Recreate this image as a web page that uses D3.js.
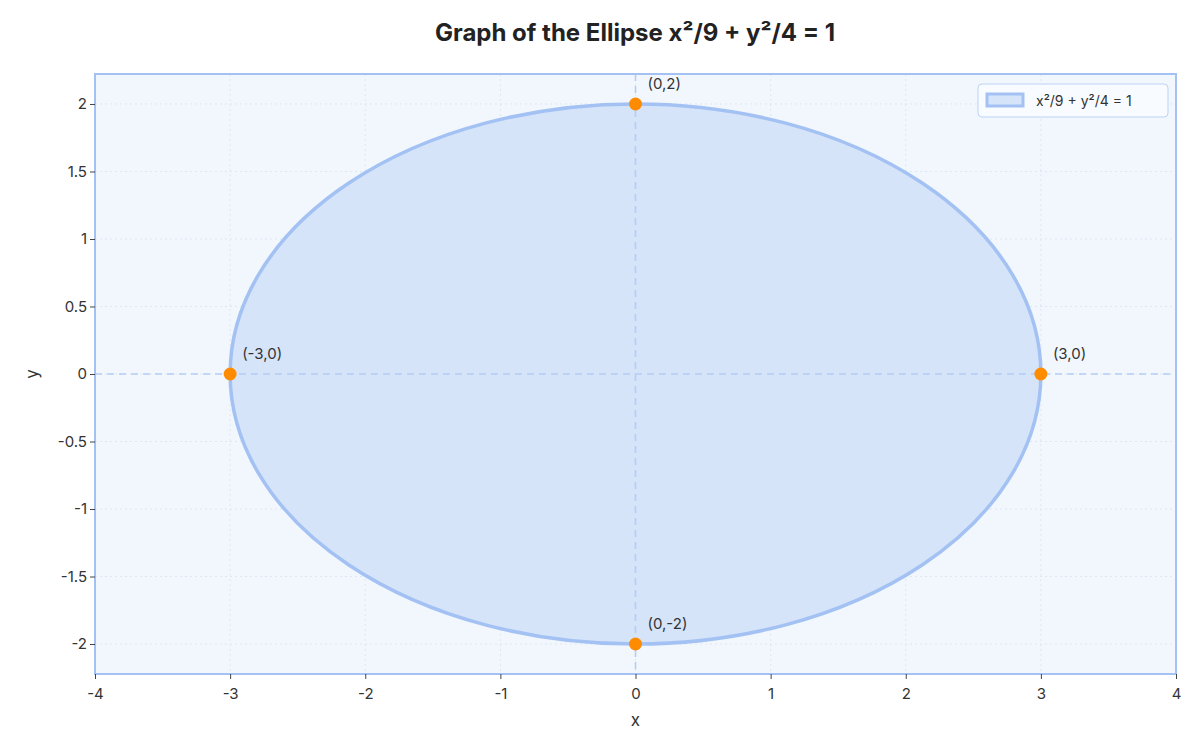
<!DOCTYPE html>
<html><head><meta charset="utf-8">
<script src="https://cdn.jsdelivr.net/npm/d3@7"></script>
<style>body{margin:0;background:#fff;font-family:Inter,"Noto Sans",sans-serif;}</style>
</head><body>
<svg id="c" width="1200" height="750"></svg>
<script>
const semiAxes = [3, 2];                 // a, b
const vertices = [[-3,0],[3,0],[0,2],[0,-2]];
const vertexLabels = ['(-3,0)','(3,0)','(0,2)','(0,-2)'];
const xTicks = [-4,-3,-2,-1,0,1,2,3,4];
const yTicks = [-2,-1.5,-1,-0.5,0,0.5,1,1.5,2];

const L=95, R=1176, T=74, B=674;
const svg=d3.select('#c');
const x=d3.scaleLinear().domain([-4,4]).range([L,R]);
const y=d3.scaleLinear().domain([-2.222,2.222]).range([B,T]);
const fmt=d=>String(d);

svg.append('rect').attr('x',L).attr('y',T).attr('width',R-L).attr('height',B-T).attr('fill','#f2f7fe');
const grid=svg.append('g').attr('stroke','#dde6f3').attr('stroke-dasharray','2,3').attr('stroke-width',1);
xTicks.forEach(t=>grid.append('line').attr('x1',x(t)).attr('x2',x(t)).attr('y1',T).attr('y2',B));
yTicks.forEach(t=>grid.append('line').attr('y1',y(t)).attr('y2',y(t)).attr('x1',L).attr('x2',R));

svg.append('ellipse').attr('cx',x(0)).attr('cy',y(0))
  .attr('rx',x(semiAxes[0])-x(0)).attr('ry',y(0)-y(semiAxes[1]))
  .attr('fill','#d5e4f9').attr('stroke','#a3c2f3').attr('stroke-width',3.5);

const ax=svg.append('g').attr('stroke','#b4cdf3').attr('stroke-width',1.6).attr('stroke-dasharray','7,5');
ax.append('line').attr('x1',L).attr('x2',R).attr('y1',y(0)).attr('y2',y(0));
ax.append('line').attr('y1',T).attr('y2',B).attr('x1',x(0)).attr('x2',x(0));

svg.append('rect').attr('x',L).attr('y',T).attr('width',R-L).attr('height',B-T).attr('fill','none').attr('stroke','#a3c2f3').attr('stroke-width',2);

vertices.forEach((v,i)=>{
  svg.append('circle').attr('cx',x(v[0])).attr('cy',y(v[1])).attr('r',6.5).attr('fill','#ff8c00');
  svg.append('text').attr('x',x(v[0])+12).attr('y',y(v[1])-15).attr('font-size',15).attr('fill','#333').text(vertexLabels[i]);
});

const xa=svg.append('g').attr('transform',`translate(0,${B})`).call(d3.axisBottom(x).tickValues(xTicks).tickSize(5).tickFormat(fmt));
const ya=svg.append('g').attr('transform',`translate(${L},0)`).call(d3.axisLeft(y).tickValues(yTicks).tickSize(5).tickFormat(fmt));
[xa,ya].forEach(a=>{a.select('.domain').remove();a.selectAll('line').attr('stroke','#444');
  a.selectAll('text').attr('font-size',15).attr('fill','#333').attr('font-family','Inter,sans-serif');});
xa.selectAll('text').attr('dy','1.1em');

svg.append('text').attr('x',x(0)).attr('y',726).attr('text-anchor','middle').attr('font-size',17).attr('fill','#333').text('x');
svg.append('text').attr('transform',`translate(38,${y(0)}) rotate(-90)`).attr('text-anchor','middle').attr('font-size',17).attr('fill','#333').text('y');
svg.append('text').attr('x',635).attr('y',41).attr('text-anchor','middle').attr('font-size',24).attr('font-weight',700).attr('fill','#222').text('Graph of the Ellipse x²/9 + y²/4 = 1');

const lg=svg.append('g').attr('transform','translate(978,84)');
lg.append('rect').attr('width',190).attr('height',33).attr('rx',4).attr('fill','#f8fbff').attr('stroke','#bcd3f5');
lg.append('rect').attr('x',9).attr('y',10).attr('width',36).attr('height',12).attr('fill','#d5e4f9').attr('stroke','#a3c2f3').attr('stroke-width',3);
lg.append('text').attr('x',58).attr('y',22).attr('font-size',14).attr('fill','#333').text('x²/9 + y²/4 = 1');
</script></body></html>
